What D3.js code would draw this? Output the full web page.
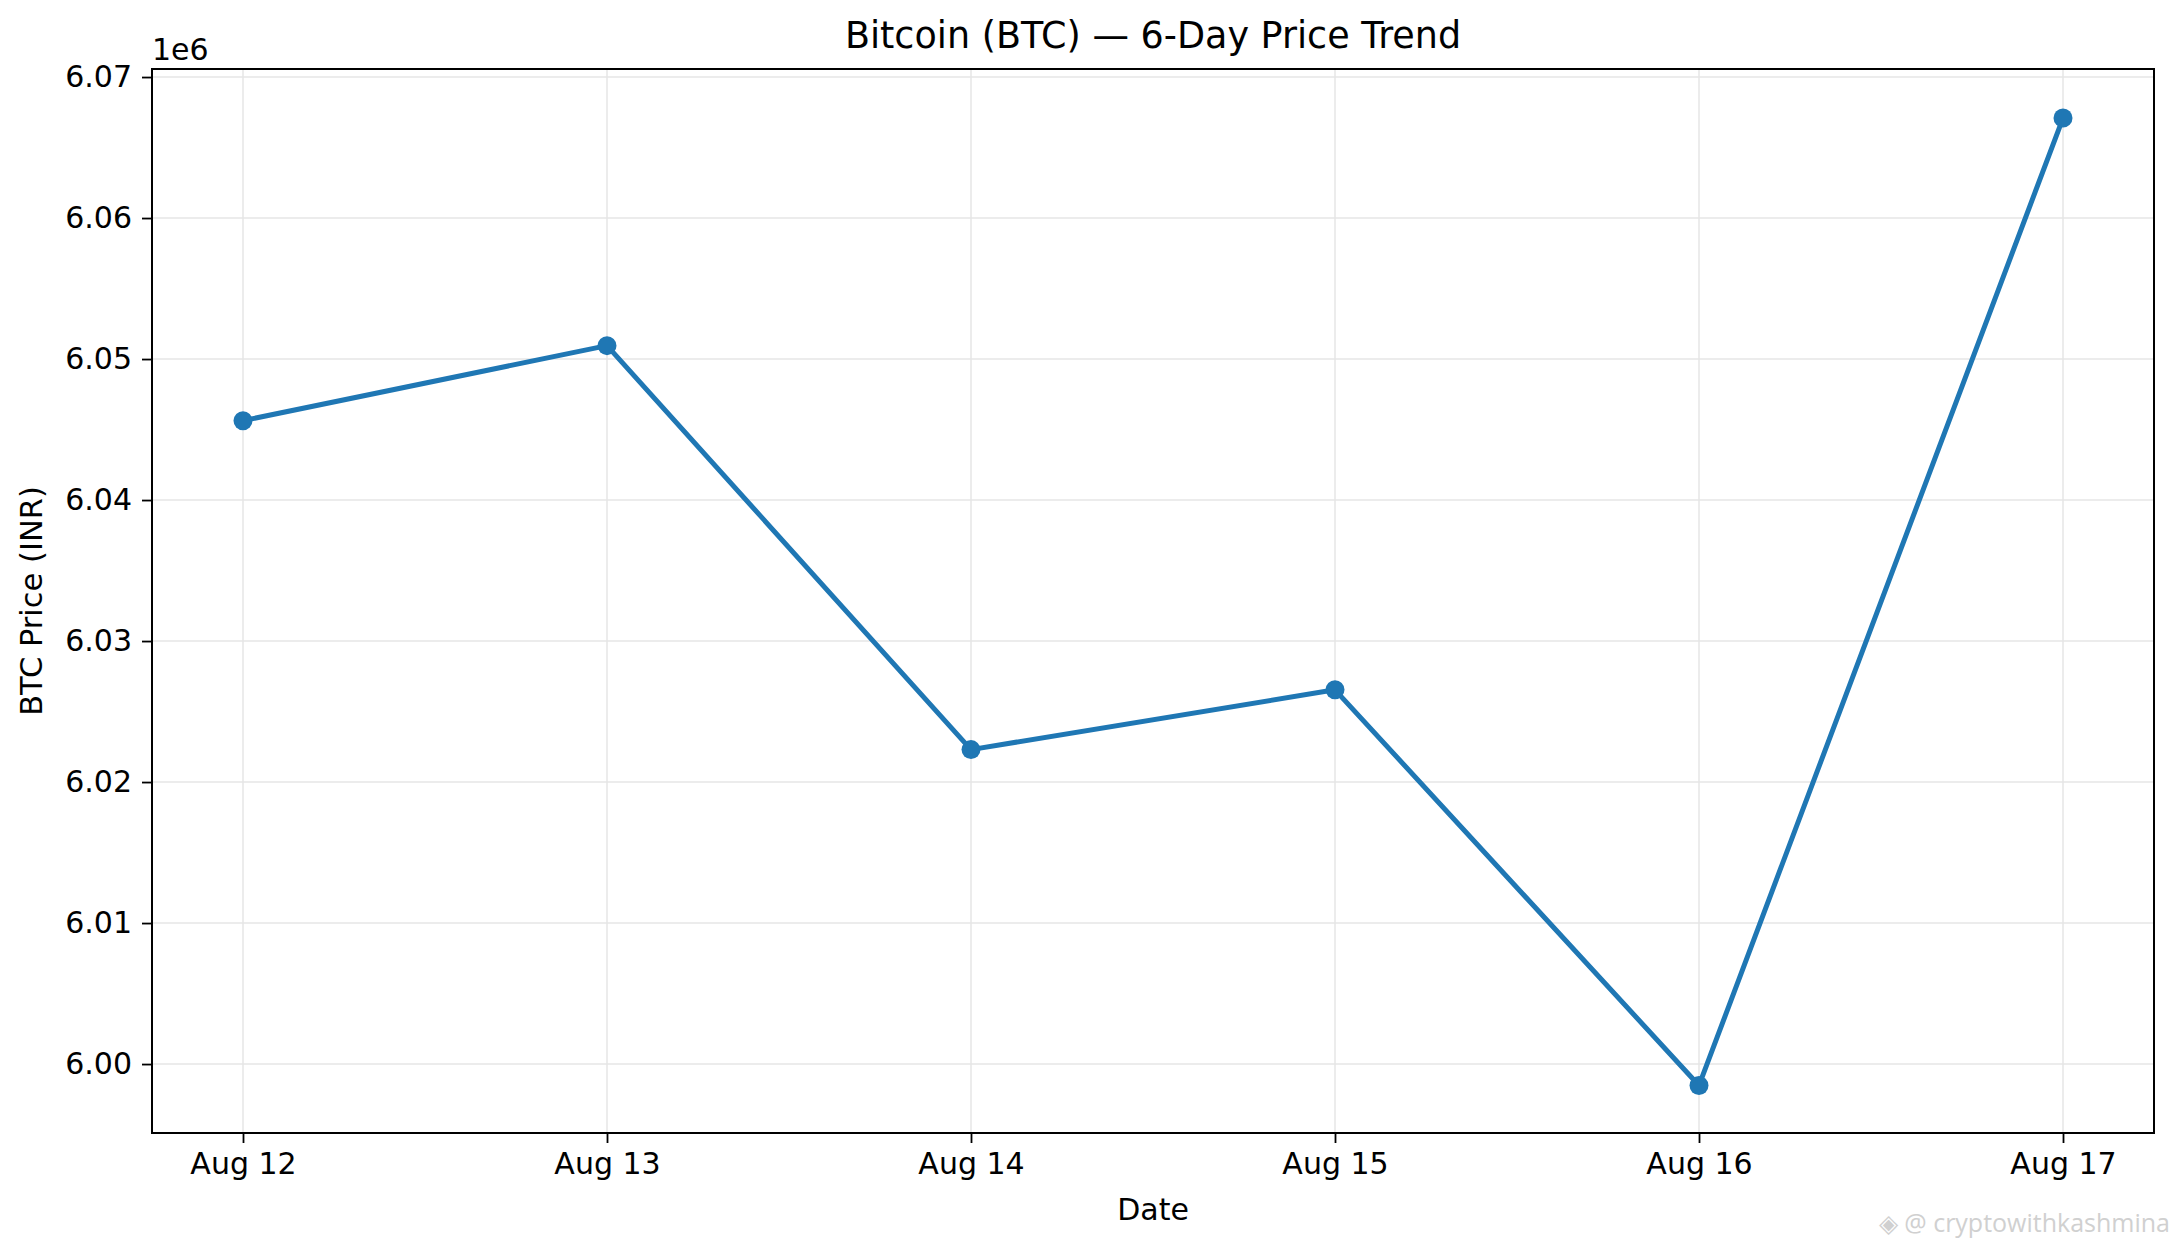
<!DOCTYPE html>
<html>
<head>
<meta charset="utf-8">
<script src="https://cdn.jsdelivr.net/npm/d3@7"></script>
<style>
  body { margin: 0; background: #fff; }
  text { font-family: "DejaVu Sans", sans-serif; }
</style>
</head>
<body>
<svg id="chart" width="2176" height="1248"></svg>
<script>
var dates = ["Aug 12", "Aug 13", "Aug 14", "Aug 15", "Aug 16", "Aug 17"];
var prices = [6045630, 6050950, 6022300, 6026540, 5998480, 6067090];
var yTicks = [6.00, 6.01, 6.02, 6.03, 6.04, 6.05, 6.06, 6.07];

var margin = {top: 69, right: 22, bottom: 115, left: 152},
    width = 2176 - margin.left - margin.right,
    height = 1248 - margin.top - margin.bottom;

var svg = d3.select("#chart");
var g = svg.append("g")
    .attr("transform", "translate(" + margin.left + "," + margin.top + ")");

var x = d3.scaleLinear().domain([-0.25, 5.25]).range([0, width]);
var y = d3.scaleLinear().domain([5.99511e6, 6.07057e6]).range([height, 0]);

// grid
g.selectAll(".gx").data(dates).enter().append("line")
    .attr("x1", function(d, i) { return x(i); })
    .attr("x2", function(d, i) { return x(i); })
    .attr("y1", 0).attr("y2", height)
    .attr("stroke", "#e6e6e6").attr("stroke-width", 1.5);
g.selectAll(".gy").data(yTicks).enter().append("line")
    .attr("y1", function(d) { return y(d * 1e6); })
    .attr("y2", function(d) { return y(d * 1e6); })
    .attr("x1", 0).attr("x2", width)
    .attr("stroke", "#e6e6e6").attr("stroke-width", 1.5);

// axes
var xAxis = g.append("g")
    .attr("transform", "translate(0," + height + ")")
    .call(d3.axisBottom(x).tickValues(d3.range(dates.length))
        .tickFormat(function(i) { return dates[i]; }).tickSize(10).tickPadding(10));
var yAxis = g.append("g")
    .call(d3.axisLeft(y).tickValues(yTicks.map(function(v) { return v * 1e6; }))
        .tickFormat(function(v) { return (v / 1e6).toFixed(2); }).tickSize(10).tickPadding(10));
[xAxis, yAxis].forEach(function(a) {
  a.attr("font-family", null).attr("font-size", null);
  a.select(".domain").remove();
  a.selectAll("line").attr("stroke", "#000").attr("stroke-width", 1.8);
  a.selectAll("text").attr("font-size", 30).attr("fill", "#000");
});

g.append("rect").attr("width", width).attr("height", height)
    .attr("fill", "none").attr("stroke", "#000").attr("stroke-width", 2);

// line
var line = d3.line()
    .x(function(d, i) { return x(i); })
    .y(function(d) { return y(d); });
g.append("path").datum(prices)
    .attr("d", line)
    .attr("fill", "none").attr("stroke", "#1f77b4").attr("stroke-width", 5)
    .attr("stroke-linejoin", "round");
g.selectAll(".pt").data(prices).enter().append("circle")
    .attr("cx", function(d, i) { return x(i); })
    .attr("cy", function(d) { return y(d); })
    .attr("r", 9.5).attr("fill", "#1f77b4");

// labels
svg.append("text").attr("x", margin.left).attr("y", 60)
    .attr("font-size", 30).text("1e6");
svg.append("text").attr("x", margin.left + width / 2).attr("y", 48)
    .attr("text-anchor", "middle").attr("font-size", 36.5)
    .text("Bitcoin (BTC) — 6-Day Price Trend");
svg.append("text").attr("x", margin.left + width / 2).attr("y", 1220)
    .attr("text-anchor", "middle").attr("font-size", 30).text("Date");
svg.append("text")
    .attr("transform", "translate(42," + (margin.top + height / 2) + ") rotate(-90)")
    .attr("text-anchor", "middle").attr("font-size", 30.5).text("BTC Price (INR)");
svg.append("text").attr("x", 2170).attr("y", 1232)
    .attr("text-anchor", "end").attr("font-size", 25).attr("fill", "#d0d0d0")
    .style("font-family", "Open Sans")
    .text("◈ @ cryptowithkashmina");
</script>
</body>
</html>
